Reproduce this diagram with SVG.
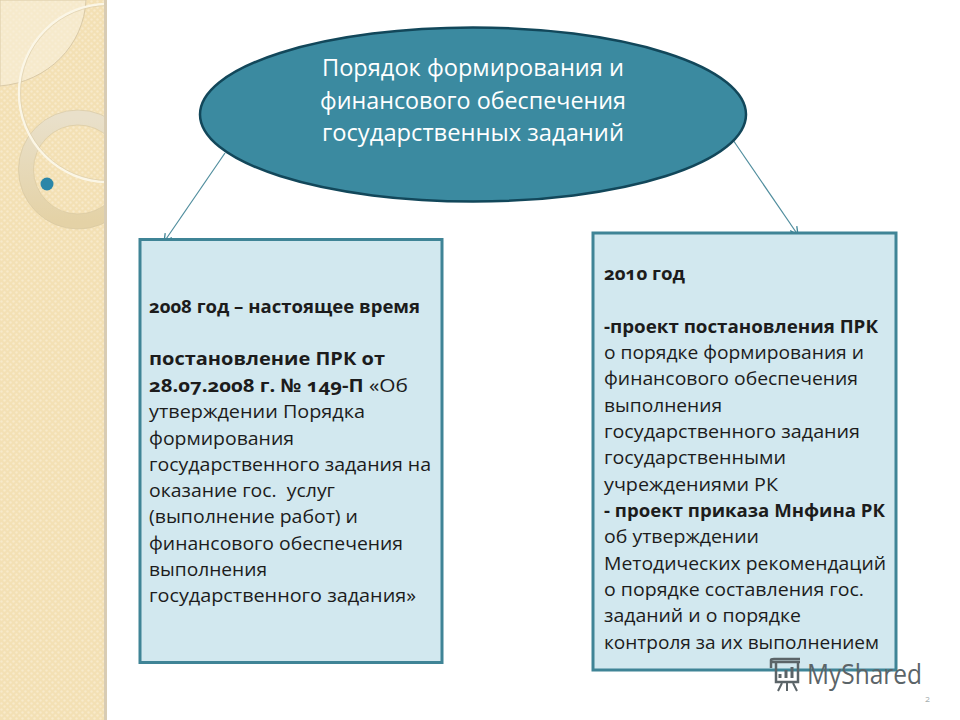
<svg xmlns="http://www.w3.org/2000/svg" width="960" height="720" viewBox="0 0 960 720">
<style>
text{font-family:"Open Sans","Noto Sans","Liberation Sans",sans-serif;font-feature-settings:"onum";fill:#1c1c1c;font-size:19px}
.b{font-weight:700;font-size:18.5px}
.t{fill:#fff;font-size:23.5px;text-anchor:middle}
.box{fill:#d2e8ef;stroke:#3f8496;stroke-width:3}
.c{stroke:#4f8d9d;stroke-width:1.2;fill:none;marker-end:url(#a)}
</style>
<defs>
<pattern id="tex" width="6" height="6" patternUnits="userSpaceOnUse">
<rect width="6" height="6" fill="#f3e0b4"/><circle cx="1.5" cy="1.5" r="1.2" fill="#f8eaca"/><circle cx="4.5" cy="4.5" r="1.2" fill="#f8eaca"/>
</pattern>
<linearGradient id="ring" x1="0" y1="0" x2="0" y2="1"><stop offset="0" stop-color="#e9e0ca"/><stop offset="1" stop-color="#e4d2a6"/></linearGradient>
<marker id="a" markerWidth="12" markerHeight="12" refX="9" refY="5" orient="auto" markerUnits="userSpaceOnUse"><path d="M1 1L9 5L1 9" fill="none" stroke="#3f8496" stroke-width="1.3"/></marker>
<clipPath id="side"><rect width="106" height="720"/></clipPath>
</defs>
<rect width="960" height="720" fill="#fff"/>
<g id="sidebar">
<rect width="106" height="720" fill="url(#tex)"/>
<g clip-path="url(#side)">
<path d="M0 0H86C84 45 48 82 0 86Z" fill="#f8f0dc" fill-opacity=".6" stroke="#d9c9a6"/>
<circle cx="78" cy="169.500" r="52" fill="none" stroke="url(#ring)" stroke-width="15"/>
<circle cx="78" cy="169.500" r="59.500" fill="none" stroke="#d8c8a2" stroke-width=".7"/>
<circle cx="78" cy="169.500" r="44.500" fill="none" stroke="#d8c8a2" stroke-width=".7"/>
<circle cx="108" cy="93" r="89" fill="none" stroke="#fbf6e6" stroke-width="2.500"/>
<circle cx="108" cy="93" r="87.500" fill="none" stroke="#d9c9a6" stroke-width=".6"/>
</g>
<rect x="104" width="3" height="720" fill="#d8ccb4"/>
<circle cx="47" cy="184" r="6.500" fill="#2b86a8"/>
</g>
<g id="connectors">
<line class="c" x1="225" y1="153" x2="164" y2="242"/>
<line class="c" x1="733" y1="140" x2="798" y2="235"/>
</g>
<g id="oval">
<ellipse cx="473" cy="114.500" rx="273" ry="87" fill="#3b8aa0" stroke="#12475a" stroke-width="2.500"/>
<text class="t" x="473" y="76" textLength="302" lengthAdjust="spacingAndGlyphs">Порядок формирования и</text>
<text class="t" x="473" y="109" textLength="306" lengthAdjust="spacingAndGlyphs">финансового обеспечения</text>
<text class="t" x="473" y="141" textLength="302" lengthAdjust="spacingAndGlyphs">государственных заданий</text>
</g>
<g id="box-left">
<rect class="box" x="140" y="239.500" width="302" height="423"/>
<text class="b" x="149" y="313" textLength="271" lengthAdjust="spacingAndGlyphs">2008 год – настоящее время</text>
<text class="b" x="149" y="365" textLength="236" lengthAdjust="spacingAndGlyphs">постановление ПРК от</text>
<text x="149" y="392" textLength="259" lengthAdjust="spacingAndGlyphs"><tspan class="b">28.07.2008 г. № 149-П</tspan> «Об</text>
<text x="149" y="418" textLength="216" lengthAdjust="spacingAndGlyphs">утверждении Порядка</text>
<text x="149" y="445" textLength="145" lengthAdjust="spacingAndGlyphs">формирования</text>
<text x="149" y="471" textLength="282" lengthAdjust="spacingAndGlyphs">государственного задания на</text>
<text x="149" y="497" textLength="186" lengthAdjust="spacingAndGlyphs" xml:space="preserve">оказание гос.  услуг</text>
<text x="149" y="523" textLength="209" lengthAdjust="spacingAndGlyphs">(выполнение работ) и</text>
<text x="149" y="550" textLength="254" lengthAdjust="spacingAndGlyphs">финансового обеспечения</text>
<text x="149" y="576" textLength="118" lengthAdjust="spacingAndGlyphs">выполнения</text>
<text x="149" y="602" textLength="267" lengthAdjust="spacingAndGlyphs">государственного задания»</text>
</g>
<g id="box-right">
<rect class="box" x="593" y="233" width="303" height="437"/>
<text class="b" x="604" y="280" textLength="81" lengthAdjust="spacingAndGlyphs">2010 год</text>
<text class="b" x="604" y="333" textLength="274" lengthAdjust="spacingAndGlyphs">-проект постановления ПРК</text>
<text x="604" y="359" textLength="260" lengthAdjust="spacingAndGlyphs">о порядке формирования и</text>
<text x="604" y="385" textLength="254" lengthAdjust="spacingAndGlyphs">финансового обеспечения</text>
<text x="604" y="412" textLength="118" lengthAdjust="spacingAndGlyphs">выполнения</text>
<text x="604" y="438" textLength="256" lengthAdjust="spacingAndGlyphs">государственного задания</text>
<text x="604" y="464" textLength="182" lengthAdjust="spacingAndGlyphs">государственными</text>
<text x="604" y="491" textLength="174" lengthAdjust="spacingAndGlyphs">учреждениями РК</text>
<text class="b" x="604" y="517" textLength="281" lengthAdjust="spacingAndGlyphs">- проект приказа Мнфина РК</text>
<text x="604" y="543" textLength="155" lengthAdjust="spacingAndGlyphs">об утверждении</text>
<text x="604" y="570" textLength="282" lengthAdjust="spacingAndGlyphs">Методических рекомендаций</text>
<text x="604" y="596" textLength="260" lengthAdjust="spacingAndGlyphs">о порядке составления гос.</text>
<text x="604" y="622" textLength="197" lengthAdjust="spacingAndGlyphs">заданий и о порядке</text>
<text x="604" y="649" textLength="275" lengthAdjust="spacingAndGlyphs">контроля за их выполнением</text>
</g>
<g id="watermark" fill="none" stroke="#5b6468" stroke-width="2.500">
<path d="M772 662H800M776 662V682H798V662M771 668V660Q771 659 774 659H800"/>
<path d="M780 678V674M786 678V670M792 678V667" stroke-width="3"/>
<path d="M782 683L778 691M787 683V691M793 683L797 691" stroke-width="2"/>
<text x="807" y="684" style="font-size:27px;fill:#5b6468;stroke:none" textLength="115" lengthAdjust="spacingAndGlyphs">MyShared</text>
</g>
<text id="page" x="925" y="702" style="font-size:9px;fill:#a8b0b0">2</text>
</svg>
